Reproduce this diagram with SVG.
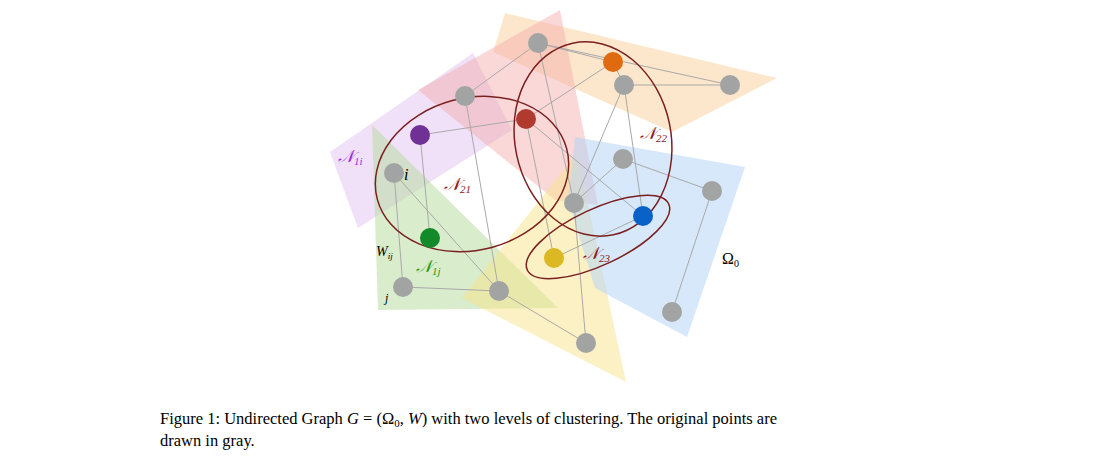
<svg xmlns="http://www.w3.org/2000/svg" width="1112" height="462" viewBox="0 0 1112 462">
<style>
.e{stroke:#a9a9a9;stroke-width:1}
.g{fill:#a2a4a4}
.el{fill:none;stroke:#7a2020;stroke-width:1.5}
.t{font-family:"Liberation Serif",serif;font-style:italic}
.cap{font-family:"Liberation Serif",serif;font-size:16.5px;fill:#000}
</style>
<rect width="1112" height="462" fill="#fff"/>
<g id="regions">
<polygon points="505,13 777,78 672,132 493,52" fill="#f9c98f" opacity="0.45"/>
<polygon points="330,152 473,53 512,130 358,228" fill="#e3c9f2" opacity="0.55"/>
<polygon points="418,90 560,10 598,205 555,200" fill="#f4a8a8" opacity="0.45"/>
<polygon points="372,125 378,310 558,308" fill="#b9dda3" opacity="0.55"/>
<polygon points="462,298 577,153 626,382" fill="#f9e38a" opacity="0.5"/>
<polygon points="575,137 745,167 687,337 595,288 568,200" fill="#b5d6f5" opacity="0.55"/>
</g>
<g id="connectors">
<line class="e" x1="538" y1="43" x2="613" y2="62"/>
<line class="e" x1="538" y1="43" x2="730" y2="85"/>
<line class="e" x1="538" y1="43" x2="465" y2="96"/>
<line class="e" x1="538" y1="43" x2="574" y2="203"/>
<line class="e" x1="613" y1="62" x2="624" y2="85"/>
<line class="e" x1="613" y1="62" x2="526" y2="119"/>
<line class="e" x1="624" y1="85" x2="730" y2="85"/>
<line class="e" x1="624" y1="85" x2="574" y2="203"/>
<line class="e" x1="624" y1="85" x2="643" y2="216"/>
<line class="e" x1="465" y1="96" x2="499" y2="291"/>
<line class="e" x1="420" y1="135" x2="526" y2="119"/>
<line class="e" x1="420" y1="135" x2="430" y2="238"/>
<line class="e" x1="526" y1="119" x2="554" y2="258"/>
<line class="e" x1="526" y1="119" x2="643" y2="216"/>
<line class="e" x1="623" y1="159" x2="574" y2="203"/>
<line class="e" x1="623" y1="159" x2="712" y2="191"/>
<line class="e" x1="574" y1="203" x2="586" y2="343"/>
<line class="e" x1="643" y1="216" x2="554" y2="258"/>
<line class="e" x1="394" y1="173" x2="403" y2="287"/>
<line class="e" x1="394" y1="173" x2="499" y2="291"/>
<line class="e" x1="403" y1="287" x2="499" y2="291"/>
<line class="e" x1="499" y1="291" x2="586" y2="343"/>
<line class="e" x1="712" y1="191" x2="672" y2="312"/>
</g>
<g id="clusters">
<ellipse class="el" cx="472" cy="174" rx="98" ry="76" transform="rotate(-15 472 174)"/>
<ellipse class="el" cx="593" cy="139" rx="78" ry="98" transform="rotate(-12 593 139)"/>
<ellipse class="el" cx="598" cy="237" rx="78" ry="28" transform="rotate(-25 598 237)"/>
</g>
<g id="nodes">
<circle id="nA" class="g" cx="538" cy="43" r="10"/>
<circle id="nB" class="g" cx="624" cy="85" r="10"/>
<circle id="nC" class="g" cx="730" cy="85" r="10"/>
<circle id="nD" class="g" cx="465" cy="96" r="10"/>
<circle id="nE" class="g" cx="394" cy="173" r="10"/>
<circle id="nF" class="g" cx="623" cy="159" r="10"/>
<circle id="nG" class="g" cx="712" cy="191" r="10"/>
<circle id="nH" class="g" cx="574" cy="203" r="10"/>
<circle id="nI" class="g" cx="403" cy="287" r="10"/>
<circle id="nJ" class="g" cx="499" cy="291" r="10"/>
<circle id="nK" class="g" cx="672" cy="312" r="10"/>
<circle id="nL" class="g" cx="586" cy="343" r="10"/>
<circle id="nOrange" cx="613" cy="62" r="10" fill="#e06a10"/>
<circle id="nRed" cx="526" cy="119" r="10" fill="#b03a2e"/>
<circle id="nPurple" cx="420" cy="135" r="10" fill="#6f3196"/>
<circle id="nGreen" cx="430" cy="238" r="10" fill="#128a2a"/>
<circle id="nBlue" cx="643" cy="216" r="10" fill="#0a62c8"/>
<circle id="nYellow" cx="554" cy="258" r="10" fill="#dcb822"/>
</g>
<g id="labels">
<text class="t" x="338" y="162" font-size="17" fill="#9b30d8">𝒩<tspan font-size="11" dy="3">1i</tspan></text>
<text class="t" x="404" y="180" font-size="16" fill="#000">i</text>
<text class="t" x="444" y="190" font-size="17" fill="#8b1a1a">𝒩<tspan font-size="11" dy="3">21</tspan></text>
<text class="t" x="640" y="139" font-size="17" fill="#8b1a1a">𝒩<tspan font-size="11" dy="3">22</tspan></text>
<text class="t" x="583" y="259" font-size="17" fill="#8b1a1a">𝒩<tspan font-size="11" dy="3">23</tspan></text>
<text class="t" x="376" y="256" font-size="14" fill="#000">W<tspan font-size="9" dy="3">ij</tspan></text>
<text class="t" x="416" y="272" font-size="17" fill="#2a9a10">𝒩<tspan font-size="11" dy="3">1j</tspan></text>
<text class="t" x="385" y="302" font-size="12" fill="#000">j</text>
<text x="722" y="264" font-family="Liberation Serif,serif" font-size="16" fill="#000">Ω<tspan font-size="10" dy="3">0</tspan></text>
<text class="cap" x="160" y="424">Figure 1: Undirected Graph <tspan font-style="italic">G</tspan> = (Ω<tspan font-size="11" dy="3">0</tspan><tspan dy="-3">, </tspan><tspan font-style="italic">W</tspan>) with two levels of clustering.  The original points are</text>
<text class="cap" x="160" y="446">drawn in gray.</text>
</g>
</svg>
